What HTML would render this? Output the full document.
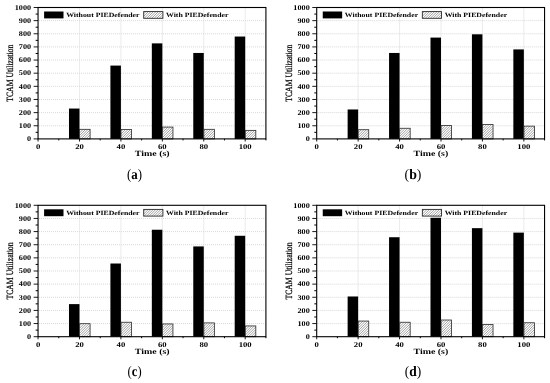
<!DOCTYPE html>
<html lang="en">
<head>
<meta charset="utf-8">
<title>TCAM Utilization</title>
<style>
html,body{margin:0;padding:0;background:#fff;}
body{width:550px;height:383px;overflow:hidden;}
svg{display:block;}
text{font-family:"Liberation Serif","DejaVu Serif",serif;fill:#000;text-rendering:geometricPrecision;}
.b{font-weight:bold;}
.tk{font-weight:bold;font-size:7.2px;}
.lg{font-weight:bold;font-size:6.4px;}
.ax{font-weight:bold;font-size:8px;}
.yl{font-size:7.7px;stroke:#000;stroke-width:0.2px;}
.cap{font-size:14.5px;}
</style>
</head>
<body>
<svg width="550" height="383" viewBox="0 0 550 383">
<rect width="550" height="383" fill="#fff"/>

<g transform="translate(0,0)">
<line x1="39.05" y1="125.76" x2="265.91" y2="125.76" stroke="#c8c8c8" stroke-width="0.7" stroke-dasharray="1 1"/>
<line x1="39.05" y1="112.62" x2="265.91" y2="112.62" stroke="#c8c8c8" stroke-width="0.7" stroke-dasharray="1 1"/>
<line x1="39.05" y1="99.48" x2="265.91" y2="99.48" stroke="#c8c8c8" stroke-width="0.7" stroke-dasharray="1 1"/>
<line x1="39.05" y1="86.34" x2="265.91" y2="86.34" stroke="#c8c8c8" stroke-width="0.7" stroke-dasharray="1 1"/>
<line x1="39.05" y1="73.2" x2="265.91" y2="73.2" stroke="#c8c8c8" stroke-width="0.7" stroke-dasharray="1 1"/>
<line x1="39.05" y1="60.06" x2="265.91" y2="60.06" stroke="#c8c8c8" stroke-width="0.7" stroke-dasharray="1 1"/>
<line x1="39.05" y1="46.92" x2="265.91" y2="46.92" stroke="#c8c8c8" stroke-width="0.7" stroke-dasharray="1 1"/>
<line x1="39.05" y1="33.78" x2="265.91" y2="33.78" stroke="#c8c8c8" stroke-width="0.7" stroke-dasharray="1 1"/>
<line x1="39.05" y1="20.64" x2="265.91" y2="20.64" stroke="#c8c8c8" stroke-width="0.7" stroke-dasharray="1 1"/>
<line x1="79.48" y1="7.5" x2="79.48" y2="138.9" stroke="#dedede" stroke-width="0.6"/>
<line x1="120.91" y1="7.5" x2="120.91" y2="138.9" stroke="#dedede" stroke-width="0.6"/>
<line x1="162.34" y1="7.5" x2="162.34" y2="138.9" stroke="#dedede" stroke-width="0.6"/>
<line x1="203.77" y1="7.5" x2="203.77" y2="138.9" stroke="#dedede" stroke-width="0.6"/>
<line x1="245.2" y1="7.5" x2="245.2" y2="138.9" stroke="#dedede" stroke-width="0.6"/>
<rect x="68.98" y="108.55" width="10.5" height="30.35" fill="#000"/>
<rect x="79.58" y="129.31" width="10.5" height="9.59" fill="#fff"/>
<path d="M79.58 130.42L80.69 129.31M79.58 132.92L83.19 129.31M79.58 135.42L85.69 129.31M79.58 137.92L88.19 129.31M81.1 138.9L90.08 129.92M83.6 138.9L90.08 132.42M86.1 138.9L90.08 134.92M88.6 138.9L90.08 137.42" stroke="#555" stroke-width="0.55" fill="none"/>
<rect x="79.58" y="129.31" width="10.5" height="9.59" fill="none" stroke="#2a2a2a" stroke-width="0.8"/>
<rect x="110.41" y="65.58" width="10.5" height="73.32" fill="#000"/>
<rect x="121.01" y="129.57" width="10.5" height="9.33" fill="#fff"/>
<path d="M121.01 131.49L122.93 129.57M121.01 133.99L125.43 129.57M121.01 136.49L127.93 129.57M121.1 138.9L130.43 129.57M123.6 138.9L131.51 130.99M126.1 138.9L131.51 133.49M128.6 138.9L131.51 135.99M131.1 138.9L131.51 138.49" stroke="#555" stroke-width="0.55" fill="none"/>
<rect x="121.01" y="129.57" width="10.5" height="9.33" fill="none" stroke="#2a2a2a" stroke-width="0.8"/>
<rect x="151.84" y="43.37" width="10.5" height="95.53" fill="#000"/>
<rect x="162.44" y="127.07" width="10.5" height="11.83" fill="#fff"/>
<path d="M162.44 127.56L162.93 127.07M162.44 130.06L165.43 127.07M162.44 132.56L167.93 127.07M162.44 135.06L170.43 127.07M162.44 137.56L172.93 127.07M163.6 138.9L172.94 129.56M166.1 138.9L172.94 132.06M168.6 138.9L172.94 134.56M171.1 138.9L172.94 137.06" stroke="#555" stroke-width="0.55" fill="none"/>
<rect x="162.44" y="127.07" width="10.5" height="11.83" fill="none" stroke="#2a2a2a" stroke-width="0.8"/>
<rect x="193.27" y="52.96" width="10.5" height="85.94" fill="#000"/>
<rect x="203.87" y="129.31" width="10.5" height="9.59" fill="#fff"/>
<path d="M203.87 131.13L205.69 129.31M203.87 133.63L208.19 129.31M203.87 136.13L210.69 129.31M203.87 138.63L213.19 129.31M206.1 138.9L214.37 130.63M208.6 138.9L214.37 133.13M211.1 138.9L214.37 135.63M213.6 138.9L214.37 138.13" stroke="#555" stroke-width="0.55" fill="none"/>
<rect x="203.87" y="129.31" width="10.5" height="9.59" fill="none" stroke="#2a2a2a" stroke-width="0.8"/>
<rect x="234.7" y="36.54" width="10.5" height="102.36" fill="#000"/>
<rect x="245.3" y="130.36" width="10.5" height="8.54" fill="#fff"/>
<path d="M245.3 132.2L247.14 130.36M245.3 134.7L249.64 130.36M245.3 137.2L252.14 130.36M246.1 138.9L254.64 130.36M248.6 138.9L255.8 131.7M251.1 138.9L255.8 134.2M253.6 138.9L255.8 136.7" stroke="#555" stroke-width="0.55" fill="none"/>
<rect x="245.3" y="130.36" width="10.5" height="8.54" fill="none" stroke="#2a2a2a" stroke-width="0.8"/>
<rect x="38.05" y="7.5" width="227.86" height="131.4" fill="none" stroke="#000" stroke-width="1.1"/>
<line x1="33.65" y1="138.9" x2="38.05" y2="138.9" stroke="#000" stroke-width="0.9"/>
<text class="tk" text-anchor="end" transform="translate(31.1,141.15) scale(1.14,1)">0</text>
<line x1="35.65" y1="132.33" x2="38.05" y2="132.33" stroke="#000" stroke-width="1"/>
<line x1="33.65" y1="125.76" x2="38.05" y2="125.76" stroke="#000" stroke-width="0.9"/>
<text class="tk" text-anchor="end" transform="translate(31.1,128.01) scale(1.14,1)">100</text>
<line x1="35.65" y1="119.19" x2="38.05" y2="119.19" stroke="#000" stroke-width="1"/>
<line x1="33.65" y1="112.62" x2="38.05" y2="112.62" stroke="#000" stroke-width="0.9"/>
<text class="tk" text-anchor="end" transform="translate(31.1,114.87) scale(1.14,1)">200</text>
<line x1="35.65" y1="106.05" x2="38.05" y2="106.05" stroke="#000" stroke-width="1"/>
<line x1="33.65" y1="99.48" x2="38.05" y2="99.48" stroke="#000" stroke-width="0.9"/>
<text class="tk" text-anchor="end" transform="translate(31.1,101.73) scale(1.14,1)">300</text>
<line x1="35.65" y1="92.91" x2="38.05" y2="92.91" stroke="#000" stroke-width="1"/>
<line x1="33.65" y1="86.34" x2="38.05" y2="86.34" stroke="#000" stroke-width="0.9"/>
<text class="tk" text-anchor="end" transform="translate(31.1,88.59) scale(1.14,1)">400</text>
<line x1="35.65" y1="79.77" x2="38.05" y2="79.77" stroke="#000" stroke-width="1"/>
<line x1="33.65" y1="73.2" x2="38.05" y2="73.2" stroke="#000" stroke-width="0.9"/>
<text class="tk" text-anchor="end" transform="translate(31.1,75.45) scale(1.14,1)">500</text>
<line x1="35.65" y1="66.63" x2="38.05" y2="66.63" stroke="#000" stroke-width="1"/>
<line x1="33.65" y1="60.06" x2="38.05" y2="60.06" stroke="#000" stroke-width="0.9"/>
<text class="tk" text-anchor="end" transform="translate(31.1,62.31) scale(1.14,1)">600</text>
<line x1="35.65" y1="53.49" x2="38.05" y2="53.49" stroke="#000" stroke-width="1"/>
<line x1="33.65" y1="46.92" x2="38.05" y2="46.92" stroke="#000" stroke-width="0.9"/>
<text class="tk" text-anchor="end" transform="translate(31.1,49.17) scale(1.14,1)">700</text>
<line x1="35.65" y1="40.35" x2="38.05" y2="40.35" stroke="#000" stroke-width="1"/>
<line x1="33.65" y1="33.78" x2="38.05" y2="33.78" stroke="#000" stroke-width="0.9"/>
<text class="tk" text-anchor="end" transform="translate(31.1,36.03) scale(1.14,1)">800</text>
<line x1="35.65" y1="27.21" x2="38.05" y2="27.21" stroke="#000" stroke-width="1"/>
<line x1="33.65" y1="20.64" x2="38.05" y2="20.64" stroke="#000" stroke-width="0.9"/>
<text class="tk" text-anchor="end" transform="translate(31.1,22.89) scale(1.14,1)">900</text>
<line x1="35.65" y1="14.07" x2="38.05" y2="14.07" stroke="#000" stroke-width="1"/>
<line x1="33.65" y1="7.5" x2="38.05" y2="7.5" stroke="#000" stroke-width="0.9"/>
<text class="tk" text-anchor="end" transform="translate(31.1,9.75) scale(1.14,1)">1000</text>
<line x1="38.05" y1="138.9" x2="38.05" y2="141.5" stroke="#000" stroke-width="0.9"/>
<text class="tk" text-anchor="middle" transform="translate(38.05,149) scale(1.21,1)">0</text>
<line x1="58.77" y1="138.9" x2="58.77" y2="140.4" stroke="#000" stroke-width="1"/>
<line x1="79.48" y1="138.9" x2="79.48" y2="141.5" stroke="#000" stroke-width="0.9"/>
<text class="tk" text-anchor="middle" transform="translate(79.48,149) scale(1.21,1)">20</text>
<line x1="100.19" y1="138.9" x2="100.19" y2="140.4" stroke="#000" stroke-width="1"/>
<line x1="120.91" y1="138.9" x2="120.91" y2="141.5" stroke="#000" stroke-width="0.9"/>
<text class="tk" text-anchor="middle" transform="translate(120.91,149) scale(1.21,1)">40</text>
<line x1="141.62" y1="138.9" x2="141.62" y2="140.4" stroke="#000" stroke-width="1"/>
<line x1="162.34" y1="138.9" x2="162.34" y2="141.5" stroke="#000" stroke-width="0.9"/>
<text class="tk" text-anchor="middle" transform="translate(162.34,149) scale(1.21,1)">60</text>
<line x1="183.06" y1="138.9" x2="183.06" y2="140.4" stroke="#000" stroke-width="1"/>
<line x1="203.77" y1="138.9" x2="203.77" y2="141.5" stroke="#000" stroke-width="0.9"/>
<text class="tk" text-anchor="middle" transform="translate(203.77,149) scale(1.21,1)">80</text>
<line x1="224.48" y1="138.9" x2="224.48" y2="140.4" stroke="#000" stroke-width="1"/>
<line x1="245.2" y1="138.9" x2="245.2" y2="141.5" stroke="#000" stroke-width="0.9"/>
<text class="tk" text-anchor="middle" transform="translate(245.2,149) scale(1.21,1)">100</text>
<line x1="265.91" y1="138.9" x2="265.91" y2="140.4" stroke="#000" stroke-width="1"/>
<rect x="44.1" y="11.5" width="19.4" height="6.9" fill="#000"/>
<text class="lg" transform="translate(66.2,17) scale(1.22,1)">Without PIEDefender</text>
<rect x="143.7" y="11.6" width="19.2" height="6.7" fill="#fff"/>
<path d="M143.7 13.8L145.9 11.6M143.7 16.3L148.4 11.6M144.2 18.3L150.9 11.6M146.7 18.3L153.4 11.6M149.2 18.3L155.9 11.6M151.7 18.3L158.4 11.6M154.2 18.3L160.9 11.6M156.7 18.3L162.9 12.1M159.2 18.3L162.9 14.6M161.7 18.3L162.9 17.1" stroke="#555" stroke-width="0.55" fill="none"/>
<rect x="143.7" y="11.6" width="19.2" height="6.7" fill="none" stroke="#2a2a2a" stroke-width="0.9"/>
<text class="lg" transform="translate(166,17) scale(1.22,1)">With PIEDefender</text>
<text class="ax" text-anchor="middle" transform="translate(152.2,156.4) scale(1.24,1)">Time (s)</text>
<text class="yl" text-anchor="middle" transform="translate(13.3,73.2) scale(1.24,1) rotate(-90)">TCAM Utilization</text>
<text class="cap" text-anchor="middle" transform="translate(134.6,178.5) scale(0.89,1)">(<tspan class="b">a</tspan>)</text>
</g>
<g transform="translate(278.65,0)">
<line x1="39.05" y1="125.76" x2="265.91" y2="125.76" stroke="#c8c8c8" stroke-width="0.7" stroke-dasharray="1 1"/>
<line x1="39.05" y1="112.62" x2="265.91" y2="112.62" stroke="#c8c8c8" stroke-width="0.7" stroke-dasharray="1 1"/>
<line x1="39.05" y1="99.48" x2="265.91" y2="99.48" stroke="#c8c8c8" stroke-width="0.7" stroke-dasharray="1 1"/>
<line x1="39.05" y1="86.34" x2="265.91" y2="86.34" stroke="#c8c8c8" stroke-width="0.7" stroke-dasharray="1 1"/>
<line x1="39.05" y1="73.2" x2="265.91" y2="73.2" stroke="#c8c8c8" stroke-width="0.7" stroke-dasharray="1 1"/>
<line x1="39.05" y1="60.06" x2="265.91" y2="60.06" stroke="#c8c8c8" stroke-width="0.7" stroke-dasharray="1 1"/>
<line x1="39.05" y1="46.92" x2="265.91" y2="46.92" stroke="#c8c8c8" stroke-width="0.7" stroke-dasharray="1 1"/>
<line x1="39.05" y1="33.78" x2="265.91" y2="33.78" stroke="#c8c8c8" stroke-width="0.7" stroke-dasharray="1 1"/>
<line x1="39.05" y1="20.64" x2="265.91" y2="20.64" stroke="#c8c8c8" stroke-width="0.7" stroke-dasharray="1 1"/>
<line x1="79.48" y1="7.5" x2="79.48" y2="138.9" stroke="#dedede" stroke-width="0.6"/>
<line x1="120.91" y1="7.5" x2="120.91" y2="138.9" stroke="#dedede" stroke-width="0.6"/>
<line x1="162.34" y1="7.5" x2="162.34" y2="138.9" stroke="#dedede" stroke-width="0.6"/>
<line x1="203.77" y1="7.5" x2="203.77" y2="138.9" stroke="#dedede" stroke-width="0.6"/>
<line x1="245.2" y1="7.5" x2="245.2" y2="138.9" stroke="#dedede" stroke-width="0.6"/>
<rect x="68.98" y="109.47" width="10.5" height="29.43" fill="#000"/>
<rect x="79.58" y="129.7" width="10.5" height="9.2" fill="#fff"/>
<path d="M79.58 130.42L80.3 129.7M79.58 132.92L82.8 129.7M79.58 135.42L85.3 129.7M79.58 137.92L87.8 129.7M81.1 138.9L90.08 129.92M83.6 138.9L90.08 132.42M86.1 138.9L90.08 134.92M88.6 138.9L90.08 137.42" stroke="#555" stroke-width="0.55" fill="none"/>
<rect x="79.58" y="129.7" width="10.5" height="9.2" fill="none" stroke="#2a2a2a" stroke-width="0.8"/>
<rect x="110.41" y="52.96" width="10.5" height="85.94" fill="#000"/>
<rect x="121.01" y="128.26" width="10.5" height="10.64" fill="#fff"/>
<path d="M121.01 128.99L121.74 128.26M121.01 131.49L124.24 128.26M121.01 133.99L126.74 128.26M121.01 136.49L129.24 128.26M121.1 138.9L131.51 128.49M123.6 138.9L131.51 130.99M126.1 138.9L131.51 133.49M128.6 138.9L131.51 135.99M131.1 138.9L131.51 138.49" stroke="#555" stroke-width="0.55" fill="none"/>
<rect x="121.01" y="128.26" width="10.5" height="10.64" fill="none" stroke="#2a2a2a" stroke-width="0.8"/>
<rect x="151.84" y="37.59" width="10.5" height="101.31" fill="#000"/>
<rect x="162.44" y="125.5" width="10.5" height="13.4" fill="#fff"/>
<path d="M162.44 127.56L164.5 125.5M162.44 130.06L167 125.5M162.44 132.56L169.5 125.5M162.44 135.06L172 125.5M162.44 137.56L172.94 127.06M163.6 138.9L172.94 129.56M166.1 138.9L172.94 132.06M168.6 138.9L172.94 134.56M171.1 138.9L172.94 137.06" stroke="#555" stroke-width="0.55" fill="none"/>
<rect x="162.44" y="125.5" width="10.5" height="13.4" fill="none" stroke="#2a2a2a" stroke-width="0.8"/>
<rect x="193.27" y="34.31" width="10.5" height="104.59" fill="#000"/>
<rect x="203.87" y="124.45" width="10.5" height="14.45" fill="#fff"/>
<path d="M203.87 126.13L205.55 124.45M203.87 128.63L208.05 124.45M203.87 131.13L210.55 124.45M203.87 133.63L213.05 124.45M203.87 136.13L214.37 125.63M203.87 138.63L214.37 128.13M206.1 138.9L214.37 130.63M208.6 138.9L214.37 133.13M211.1 138.9L214.37 135.63M213.6 138.9L214.37 138.13" stroke="#555" stroke-width="0.55" fill="none"/>
<rect x="203.87" y="124.45" width="10.5" height="14.45" fill="none" stroke="#2a2a2a" stroke-width="0.8"/>
<rect x="234.7" y="49.42" width="10.5" height="89.48" fill="#000"/>
<rect x="245.3" y="126.15" width="10.5" height="12.75" fill="#fff"/>
<path d="M245.3 127.2L246.35 126.15M245.3 129.7L248.85 126.15M245.3 132.2L251.35 126.15M245.3 134.7L253.85 126.15M245.3 137.2L255.8 126.7M246.1 138.9L255.8 129.2M248.6 138.9L255.8 131.7M251.1 138.9L255.8 134.2M253.6 138.9L255.8 136.7" stroke="#555" stroke-width="0.55" fill="none"/>
<rect x="245.3" y="126.15" width="10.5" height="12.75" fill="none" stroke="#2a2a2a" stroke-width="0.8"/>
<rect x="38.05" y="7.5" width="227.86" height="131.4" fill="none" stroke="#000" stroke-width="1.1"/>
<line x1="33.65" y1="138.9" x2="38.05" y2="138.9" stroke="#000" stroke-width="0.9"/>
<text class="tk" text-anchor="end" transform="translate(31.1,141.15) scale(1.14,1)">0</text>
<line x1="35.65" y1="132.33" x2="38.05" y2="132.33" stroke="#000" stroke-width="1"/>
<line x1="33.65" y1="125.76" x2="38.05" y2="125.76" stroke="#000" stroke-width="0.9"/>
<text class="tk" text-anchor="end" transform="translate(31.1,128.01) scale(1.14,1)">100</text>
<line x1="35.65" y1="119.19" x2="38.05" y2="119.19" stroke="#000" stroke-width="1"/>
<line x1="33.65" y1="112.62" x2="38.05" y2="112.62" stroke="#000" stroke-width="0.9"/>
<text class="tk" text-anchor="end" transform="translate(31.1,114.87) scale(1.14,1)">200</text>
<line x1="35.65" y1="106.05" x2="38.05" y2="106.05" stroke="#000" stroke-width="1"/>
<line x1="33.65" y1="99.48" x2="38.05" y2="99.48" stroke="#000" stroke-width="0.9"/>
<text class="tk" text-anchor="end" transform="translate(31.1,101.73) scale(1.14,1)">300</text>
<line x1="35.65" y1="92.91" x2="38.05" y2="92.91" stroke="#000" stroke-width="1"/>
<line x1="33.65" y1="86.34" x2="38.05" y2="86.34" stroke="#000" stroke-width="0.9"/>
<text class="tk" text-anchor="end" transform="translate(31.1,88.59) scale(1.14,1)">400</text>
<line x1="35.65" y1="79.77" x2="38.05" y2="79.77" stroke="#000" stroke-width="1"/>
<line x1="33.65" y1="73.2" x2="38.05" y2="73.2" stroke="#000" stroke-width="0.9"/>
<text class="tk" text-anchor="end" transform="translate(31.1,75.45) scale(1.14,1)">500</text>
<line x1="35.65" y1="66.63" x2="38.05" y2="66.63" stroke="#000" stroke-width="1"/>
<line x1="33.65" y1="60.06" x2="38.05" y2="60.06" stroke="#000" stroke-width="0.9"/>
<text class="tk" text-anchor="end" transform="translate(31.1,62.31) scale(1.14,1)">600</text>
<line x1="35.65" y1="53.49" x2="38.05" y2="53.49" stroke="#000" stroke-width="1"/>
<line x1="33.65" y1="46.92" x2="38.05" y2="46.92" stroke="#000" stroke-width="0.9"/>
<text class="tk" text-anchor="end" transform="translate(31.1,49.17) scale(1.14,1)">700</text>
<line x1="35.65" y1="40.35" x2="38.05" y2="40.35" stroke="#000" stroke-width="1"/>
<line x1="33.65" y1="33.78" x2="38.05" y2="33.78" stroke="#000" stroke-width="0.9"/>
<text class="tk" text-anchor="end" transform="translate(31.1,36.03) scale(1.14,1)">800</text>
<line x1="35.65" y1="27.21" x2="38.05" y2="27.21" stroke="#000" stroke-width="1"/>
<line x1="33.65" y1="20.64" x2="38.05" y2="20.64" stroke="#000" stroke-width="0.9"/>
<text class="tk" text-anchor="end" transform="translate(31.1,22.89) scale(1.14,1)">900</text>
<line x1="35.65" y1="14.07" x2="38.05" y2="14.07" stroke="#000" stroke-width="1"/>
<line x1="33.65" y1="7.5" x2="38.05" y2="7.5" stroke="#000" stroke-width="0.9"/>
<text class="tk" text-anchor="end" transform="translate(31.1,9.75) scale(1.14,1)">1000</text>
<line x1="38.05" y1="138.9" x2="38.05" y2="141.5" stroke="#000" stroke-width="0.9"/>
<text class="tk" text-anchor="middle" transform="translate(38.05,149) scale(1.21,1)">0</text>
<line x1="58.77" y1="138.9" x2="58.77" y2="140.4" stroke="#000" stroke-width="1"/>
<line x1="79.48" y1="138.9" x2="79.48" y2="141.5" stroke="#000" stroke-width="0.9"/>
<text class="tk" text-anchor="middle" transform="translate(79.48,149) scale(1.21,1)">20</text>
<line x1="100.19" y1="138.9" x2="100.19" y2="140.4" stroke="#000" stroke-width="1"/>
<line x1="120.91" y1="138.9" x2="120.91" y2="141.5" stroke="#000" stroke-width="0.9"/>
<text class="tk" text-anchor="middle" transform="translate(120.91,149) scale(1.21,1)">40</text>
<line x1="141.62" y1="138.9" x2="141.62" y2="140.4" stroke="#000" stroke-width="1"/>
<line x1="162.34" y1="138.9" x2="162.34" y2="141.5" stroke="#000" stroke-width="0.9"/>
<text class="tk" text-anchor="middle" transform="translate(162.34,149) scale(1.21,1)">60</text>
<line x1="183.06" y1="138.9" x2="183.06" y2="140.4" stroke="#000" stroke-width="1"/>
<line x1="203.77" y1="138.9" x2="203.77" y2="141.5" stroke="#000" stroke-width="0.9"/>
<text class="tk" text-anchor="middle" transform="translate(203.77,149) scale(1.21,1)">80</text>
<line x1="224.48" y1="138.9" x2="224.48" y2="140.4" stroke="#000" stroke-width="1"/>
<line x1="245.2" y1="138.9" x2="245.2" y2="141.5" stroke="#000" stroke-width="0.9"/>
<text class="tk" text-anchor="middle" transform="translate(245.2,149) scale(1.21,1)">100</text>
<line x1="265.91" y1="138.9" x2="265.91" y2="140.4" stroke="#000" stroke-width="1"/>
<rect x="44.1" y="11.5" width="19.4" height="6.9" fill="#000"/>
<text class="lg" transform="translate(66.2,17) scale(1.22,1)">Without PIEDefender</text>
<rect x="143.7" y="11.6" width="19.2" height="6.7" fill="#fff"/>
<path d="M143.7 13.8L145.9 11.6M143.7 16.3L148.4 11.6M144.2 18.3L150.9 11.6M146.7 18.3L153.4 11.6M149.2 18.3L155.9 11.6M151.7 18.3L158.4 11.6M154.2 18.3L160.9 11.6M156.7 18.3L162.9 12.1M159.2 18.3L162.9 14.6M161.7 18.3L162.9 17.1" stroke="#555" stroke-width="0.55" fill="none"/>
<rect x="143.7" y="11.6" width="19.2" height="6.7" fill="none" stroke="#2a2a2a" stroke-width="0.9"/>
<text class="lg" transform="translate(166,17) scale(1.22,1)">With PIEDefender</text>
<text class="ax" text-anchor="middle" transform="translate(152.2,156.4) scale(1.24,1)">Time (s)</text>
<text class="yl" text-anchor="middle" transform="translate(13.3,73.2) scale(1.24,1) rotate(-90)">TCAM Utilization</text>
<text class="cap" text-anchor="middle" transform="translate(134.35,178.5) scale(0.95,1)">(<tspan class="b">b</tspan>)</text>
</g>
<g transform="translate(0,197.8)">
<line x1="39.05" y1="125.76" x2="265.91" y2="125.76" stroke="#c8c8c8" stroke-width="0.7" stroke-dasharray="1 1"/>
<line x1="39.05" y1="112.62" x2="265.91" y2="112.62" stroke="#c8c8c8" stroke-width="0.7" stroke-dasharray="1 1"/>
<line x1="39.05" y1="99.48" x2="265.91" y2="99.48" stroke="#c8c8c8" stroke-width="0.7" stroke-dasharray="1 1"/>
<line x1="39.05" y1="86.34" x2="265.91" y2="86.34" stroke="#c8c8c8" stroke-width="0.7" stroke-dasharray="1 1"/>
<line x1="39.05" y1="73.2" x2="265.91" y2="73.2" stroke="#c8c8c8" stroke-width="0.7" stroke-dasharray="1 1"/>
<line x1="39.05" y1="60.06" x2="265.91" y2="60.06" stroke="#c8c8c8" stroke-width="0.7" stroke-dasharray="1 1"/>
<line x1="39.05" y1="46.92" x2="265.91" y2="46.92" stroke="#c8c8c8" stroke-width="0.7" stroke-dasharray="1 1"/>
<line x1="39.05" y1="33.78" x2="265.91" y2="33.78" stroke="#c8c8c8" stroke-width="0.7" stroke-dasharray="1 1"/>
<line x1="39.05" y1="20.64" x2="265.91" y2="20.64" stroke="#c8c8c8" stroke-width="0.7" stroke-dasharray="1 1"/>
<line x1="79.48" y1="7.5" x2="79.48" y2="138.9" stroke="#dedede" stroke-width="0.6"/>
<line x1="120.91" y1="7.5" x2="120.91" y2="138.9" stroke="#dedede" stroke-width="0.6"/>
<line x1="162.34" y1="7.5" x2="162.34" y2="138.9" stroke="#dedede" stroke-width="0.6"/>
<line x1="203.77" y1="7.5" x2="203.77" y2="138.9" stroke="#dedede" stroke-width="0.6"/>
<line x1="245.2" y1="7.5" x2="245.2" y2="138.9" stroke="#dedede" stroke-width="0.6"/>
<rect x="68.98" y="106.31" width="10.5" height="32.59" fill="#000"/>
<rect x="79.58" y="125.89" width="10.5" height="13.01" fill="#fff"/>
<path d="M79.58 127.92L81.61 125.89M79.58 130.42L84.11 125.89M79.58 132.92L86.61 125.89M79.58 135.42L89.11 125.89M79.58 137.92L90.08 127.42M81.1 138.9L90.08 129.92M83.6 138.9L90.08 132.42M86.1 138.9L90.08 134.92M88.6 138.9L90.08 137.42" stroke="#555" stroke-width="0.55" fill="none"/>
<rect x="79.58" y="125.89" width="10.5" height="13.01" fill="none" stroke="#2a2a2a" stroke-width="0.8"/>
<rect x="110.41" y="65.71" width="10.5" height="73.19" fill="#000"/>
<rect x="121.01" y="124.45" width="10.5" height="14.45" fill="#fff"/>
<path d="M121.01 126.49L123.05 124.45M121.01 128.99L125.55 124.45M121.01 131.49L128.05 124.45M121.01 133.99L130.55 124.45M121.01 136.49L131.51 125.99M121.1 138.9L131.51 128.49M123.6 138.9L131.51 130.99M126.1 138.9L131.51 133.49M128.6 138.9L131.51 135.99M131.1 138.9L131.51 138.49" stroke="#555" stroke-width="0.55" fill="none"/>
<rect x="121.01" y="124.45" width="10.5" height="14.45" fill="none" stroke="#2a2a2a" stroke-width="0.8"/>
<rect x="151.84" y="31.94" width="10.5" height="106.96" fill="#000"/>
<rect x="162.44" y="126.15" width="10.5" height="12.75" fill="#fff"/>
<path d="M162.44 127.56L163.85 126.15M162.44 130.06L166.35 126.15M162.44 132.56L168.85 126.15M162.44 135.06L171.35 126.15M162.44 137.56L172.94 127.06M163.6 138.9L172.94 129.56M166.1 138.9L172.94 132.06M168.6 138.9L172.94 134.56M171.1 138.9L172.94 137.06" stroke="#555" stroke-width="0.55" fill="none"/>
<rect x="162.44" y="126.15" width="10.5" height="12.75" fill="none" stroke="#2a2a2a" stroke-width="0.8"/>
<rect x="193.27" y="48.63" width="10.5" height="90.27" fill="#000"/>
<rect x="203.87" y="125.1" width="10.5" height="13.8" fill="#fff"/>
<path d="M203.87 126.13L204.9 125.1M203.87 128.63L207.4 125.1M203.87 131.13L209.9 125.1M203.87 133.63L212.4 125.1M203.87 136.13L214.37 125.63M203.87 138.63L214.37 128.13M206.1 138.9L214.37 130.63M208.6 138.9L214.37 133.13M211.1 138.9L214.37 135.63M213.6 138.9L214.37 138.13" stroke="#555" stroke-width="0.55" fill="none"/>
<rect x="203.87" y="125.1" width="10.5" height="13.8" fill="none" stroke="#2a2a2a" stroke-width="0.8"/>
<rect x="234.7" y="37.98" width="10.5" height="100.92" fill="#000"/>
<rect x="245.3" y="128.13" width="10.5" height="10.77" fill="#fff"/>
<path d="M245.3 129.7L246.87 128.13M245.3 132.2L249.37 128.13M245.3 134.7L251.87 128.13M245.3 137.2L254.37 128.13M246.1 138.9L255.8 129.2M248.6 138.9L255.8 131.7M251.1 138.9L255.8 134.2M253.6 138.9L255.8 136.7" stroke="#555" stroke-width="0.55" fill="none"/>
<rect x="245.3" y="128.13" width="10.5" height="10.77" fill="none" stroke="#2a2a2a" stroke-width="0.8"/>
<rect x="38.05" y="7.5" width="227.86" height="131.4" fill="none" stroke="#000" stroke-width="1.1"/>
<line x1="33.65" y1="138.9" x2="38.05" y2="138.9" stroke="#000" stroke-width="0.9"/>
<text class="tk" text-anchor="end" transform="translate(31.1,141.15) scale(1.14,1)">0</text>
<line x1="35.65" y1="132.33" x2="38.05" y2="132.33" stroke="#000" stroke-width="1"/>
<line x1="33.65" y1="125.76" x2="38.05" y2="125.76" stroke="#000" stroke-width="0.9"/>
<text class="tk" text-anchor="end" transform="translate(31.1,128.01) scale(1.14,1)">100</text>
<line x1="35.65" y1="119.19" x2="38.05" y2="119.19" stroke="#000" stroke-width="1"/>
<line x1="33.65" y1="112.62" x2="38.05" y2="112.62" stroke="#000" stroke-width="0.9"/>
<text class="tk" text-anchor="end" transform="translate(31.1,114.87) scale(1.14,1)">200</text>
<line x1="35.65" y1="106.05" x2="38.05" y2="106.05" stroke="#000" stroke-width="1"/>
<line x1="33.65" y1="99.48" x2="38.05" y2="99.48" stroke="#000" stroke-width="0.9"/>
<text class="tk" text-anchor="end" transform="translate(31.1,101.73) scale(1.14,1)">300</text>
<line x1="35.65" y1="92.91" x2="38.05" y2="92.91" stroke="#000" stroke-width="1"/>
<line x1="33.65" y1="86.34" x2="38.05" y2="86.34" stroke="#000" stroke-width="0.9"/>
<text class="tk" text-anchor="end" transform="translate(31.1,88.59) scale(1.14,1)">400</text>
<line x1="35.65" y1="79.77" x2="38.05" y2="79.77" stroke="#000" stroke-width="1"/>
<line x1="33.65" y1="73.2" x2="38.05" y2="73.2" stroke="#000" stroke-width="0.9"/>
<text class="tk" text-anchor="end" transform="translate(31.1,75.45) scale(1.14,1)">500</text>
<line x1="35.65" y1="66.63" x2="38.05" y2="66.63" stroke="#000" stroke-width="1"/>
<line x1="33.65" y1="60.06" x2="38.05" y2="60.06" stroke="#000" stroke-width="0.9"/>
<text class="tk" text-anchor="end" transform="translate(31.1,62.31) scale(1.14,1)">600</text>
<line x1="35.65" y1="53.49" x2="38.05" y2="53.49" stroke="#000" stroke-width="1"/>
<line x1="33.65" y1="46.92" x2="38.05" y2="46.92" stroke="#000" stroke-width="0.9"/>
<text class="tk" text-anchor="end" transform="translate(31.1,49.17) scale(1.14,1)">700</text>
<line x1="35.65" y1="40.35" x2="38.05" y2="40.35" stroke="#000" stroke-width="1"/>
<line x1="33.65" y1="33.78" x2="38.05" y2="33.78" stroke="#000" stroke-width="0.9"/>
<text class="tk" text-anchor="end" transform="translate(31.1,36.03) scale(1.14,1)">800</text>
<line x1="35.65" y1="27.21" x2="38.05" y2="27.21" stroke="#000" stroke-width="1"/>
<line x1="33.65" y1="20.64" x2="38.05" y2="20.64" stroke="#000" stroke-width="0.9"/>
<text class="tk" text-anchor="end" transform="translate(31.1,22.89) scale(1.14,1)">900</text>
<line x1="35.65" y1="14.07" x2="38.05" y2="14.07" stroke="#000" stroke-width="1"/>
<line x1="33.65" y1="7.5" x2="38.05" y2="7.5" stroke="#000" stroke-width="0.9"/>
<text class="tk" text-anchor="end" transform="translate(31.1,9.75) scale(1.14,1)">1000</text>
<line x1="38.05" y1="138.9" x2="38.05" y2="141.5" stroke="#000" stroke-width="0.9"/>
<text class="tk" text-anchor="middle" transform="translate(38.05,149) scale(1.21,1)">0</text>
<line x1="58.77" y1="138.9" x2="58.77" y2="140.4" stroke="#000" stroke-width="1"/>
<line x1="79.48" y1="138.9" x2="79.48" y2="141.5" stroke="#000" stroke-width="0.9"/>
<text class="tk" text-anchor="middle" transform="translate(79.48,149) scale(1.21,1)">20</text>
<line x1="100.19" y1="138.9" x2="100.19" y2="140.4" stroke="#000" stroke-width="1"/>
<line x1="120.91" y1="138.9" x2="120.91" y2="141.5" stroke="#000" stroke-width="0.9"/>
<text class="tk" text-anchor="middle" transform="translate(120.91,149) scale(1.21,1)">40</text>
<line x1="141.62" y1="138.9" x2="141.62" y2="140.4" stroke="#000" stroke-width="1"/>
<line x1="162.34" y1="138.9" x2="162.34" y2="141.5" stroke="#000" stroke-width="0.9"/>
<text class="tk" text-anchor="middle" transform="translate(162.34,149) scale(1.21,1)">60</text>
<line x1="183.06" y1="138.9" x2="183.06" y2="140.4" stroke="#000" stroke-width="1"/>
<line x1="203.77" y1="138.9" x2="203.77" y2="141.5" stroke="#000" stroke-width="0.9"/>
<text class="tk" text-anchor="middle" transform="translate(203.77,149) scale(1.21,1)">80</text>
<line x1="224.48" y1="138.9" x2="224.48" y2="140.4" stroke="#000" stroke-width="1"/>
<line x1="245.2" y1="138.9" x2="245.2" y2="141.5" stroke="#000" stroke-width="0.9"/>
<text class="tk" text-anchor="middle" transform="translate(245.2,149) scale(1.21,1)">100</text>
<line x1="265.91" y1="138.9" x2="265.91" y2="140.4" stroke="#000" stroke-width="1"/>
<rect x="44.1" y="11.5" width="19.4" height="6.9" fill="#000"/>
<text class="lg" transform="translate(66.2,17) scale(1.22,1)">Without PIEDefender</text>
<rect x="143.7" y="11.6" width="19.2" height="6.7" fill="#fff"/>
<path d="M143.7 13.8L145.9 11.6M143.7 16.3L148.4 11.6M144.2 18.3L150.9 11.6M146.7 18.3L153.4 11.6M149.2 18.3L155.9 11.6M151.7 18.3L158.4 11.6M154.2 18.3L160.9 11.6M156.7 18.3L162.9 12.1M159.2 18.3L162.9 14.6M161.7 18.3L162.9 17.1" stroke="#555" stroke-width="0.55" fill="none"/>
<rect x="143.7" y="11.6" width="19.2" height="6.7" fill="none" stroke="#2a2a2a" stroke-width="0.9"/>
<text class="lg" transform="translate(166,17) scale(1.22,1)">With PIEDefender</text>
<text class="ax" text-anchor="middle" transform="translate(152.2,156.4) scale(1.24,1)">Time (s)</text>
<text class="yl" text-anchor="middle" transform="translate(13.3,73.2) scale(1.24,1) rotate(-90)">TCAM Utilization</text>
<text class="cap" text-anchor="middle" transform="translate(134.6,178.5) scale(0.87,1)">(<tspan class="b">c</tspan>)</text>
</g>
<g transform="translate(278.65,197.8)">
<line x1="39.05" y1="125.76" x2="265.91" y2="125.76" stroke="#c8c8c8" stroke-width="0.7" stroke-dasharray="1 1"/>
<line x1="39.05" y1="112.62" x2="265.91" y2="112.62" stroke="#c8c8c8" stroke-width="0.7" stroke-dasharray="1 1"/>
<line x1="39.05" y1="99.48" x2="265.91" y2="99.48" stroke="#c8c8c8" stroke-width="0.7" stroke-dasharray="1 1"/>
<line x1="39.05" y1="86.34" x2="265.91" y2="86.34" stroke="#c8c8c8" stroke-width="0.7" stroke-dasharray="1 1"/>
<line x1="39.05" y1="73.2" x2="265.91" y2="73.2" stroke="#c8c8c8" stroke-width="0.7" stroke-dasharray="1 1"/>
<line x1="39.05" y1="60.06" x2="265.91" y2="60.06" stroke="#c8c8c8" stroke-width="0.7" stroke-dasharray="1 1"/>
<line x1="39.05" y1="46.92" x2="265.91" y2="46.92" stroke="#c8c8c8" stroke-width="0.7" stroke-dasharray="1 1"/>
<line x1="39.05" y1="33.78" x2="265.91" y2="33.78" stroke="#c8c8c8" stroke-width="0.7" stroke-dasharray="1 1"/>
<line x1="39.05" y1="20.64" x2="265.91" y2="20.64" stroke="#c8c8c8" stroke-width="0.7" stroke-dasharray="1 1"/>
<line x1="79.48" y1="7.5" x2="79.48" y2="138.9" stroke="#dedede" stroke-width="0.6"/>
<line x1="120.91" y1="7.5" x2="120.91" y2="138.9" stroke="#dedede" stroke-width="0.6"/>
<line x1="162.34" y1="7.5" x2="162.34" y2="138.9" stroke="#dedede" stroke-width="0.6"/>
<line x1="203.77" y1="7.5" x2="203.77" y2="138.9" stroke="#dedede" stroke-width="0.6"/>
<line x1="245.2" y1="7.5" x2="245.2" y2="138.9" stroke="#dedede" stroke-width="0.6"/>
<rect x="68.98" y="98.69" width="10.5" height="40.21" fill="#000"/>
<rect x="79.58" y="123.26" width="10.5" height="15.64" fill="#fff"/>
<path d="M79.58 125.42L81.74 123.26M79.58 127.92L84.24 123.26M79.58 130.42L86.74 123.26M79.58 132.92L89.24 123.26M79.58 135.42L90.08 124.92M79.58 137.92L90.08 127.42M81.1 138.9L90.08 129.92M83.6 138.9L90.08 132.42M86.1 138.9L90.08 134.92M88.6 138.9L90.08 137.42" stroke="#555" stroke-width="0.55" fill="none"/>
<rect x="79.58" y="123.26" width="10.5" height="15.64" fill="none" stroke="#2a2a2a" stroke-width="0.8"/>
<rect x="110.41" y="39.43" width="10.5" height="99.47" fill="#000"/>
<rect x="121.01" y="124.45" width="10.5" height="14.45" fill="#fff"/>
<path d="M121.01 126.49L123.05 124.45M121.01 128.99L125.55 124.45M121.01 131.49L128.05 124.45M121.01 133.99L130.55 124.45M121.01 136.49L131.51 125.99M121.1 138.9L131.51 128.49M123.6 138.9L131.51 130.99M126.1 138.9L131.51 133.49M128.6 138.9L131.51 135.99M131.1 138.9L131.51 138.49" stroke="#555" stroke-width="0.55" fill="none"/>
<rect x="121.01" y="124.45" width="10.5" height="14.45" fill="none" stroke="#2a2a2a" stroke-width="0.8"/>
<rect x="151.84" y="19.98" width="10.5" height="118.92" fill="#000"/>
<rect x="162.44" y="122.21" width="10.5" height="16.69" fill="#fff"/>
<path d="M162.44 122.56L162.79 122.21M162.44 125.06L165.29 122.21M162.44 127.56L167.79 122.21M162.44 130.06L170.29 122.21M162.44 132.56L172.79 122.21M162.44 135.06L172.94 124.56M162.44 137.56L172.94 127.06M163.6 138.9L172.94 129.56M166.1 138.9L172.94 132.06M168.6 138.9L172.94 134.56M171.1 138.9L172.94 137.06" stroke="#555" stroke-width="0.55" fill="none"/>
<rect x="162.44" y="122.21" width="10.5" height="16.69" fill="none" stroke="#2a2a2a" stroke-width="0.8"/>
<rect x="193.27" y="30.36" width="10.5" height="108.54" fill="#000"/>
<rect x="203.87" y="126.68" width="10.5" height="12.22" fill="#fff"/>
<path d="M203.87 128.63L205.82 126.68M203.87 131.13L208.32 126.68M203.87 133.63L210.82 126.68M203.87 136.13L213.32 126.68M203.87 138.63L214.37 128.13M206.1 138.9L214.37 130.63M208.6 138.9L214.37 133.13M211.1 138.9L214.37 135.63M213.6 138.9L214.37 138.13" stroke="#555" stroke-width="0.55" fill="none"/>
<rect x="203.87" y="126.68" width="10.5" height="12.22" fill="none" stroke="#2a2a2a" stroke-width="0.8"/>
<rect x="234.7" y="34.83" width="10.5" height="104.07" fill="#000"/>
<rect x="245.3" y="124.97" width="10.5" height="13.93" fill="#fff"/>
<path d="M245.3 127.2L247.53 124.97M245.3 129.7L250.03 124.97M245.3 132.2L252.53 124.97M245.3 134.7L255.03 124.97M245.3 137.2L255.8 126.7M246.1 138.9L255.8 129.2M248.6 138.9L255.8 131.7M251.1 138.9L255.8 134.2M253.6 138.9L255.8 136.7" stroke="#555" stroke-width="0.55" fill="none"/>
<rect x="245.3" y="124.97" width="10.5" height="13.93" fill="none" stroke="#2a2a2a" stroke-width="0.8"/>
<rect x="38.05" y="7.5" width="227.86" height="131.4" fill="none" stroke="#000" stroke-width="1.1"/>
<line x1="33.65" y1="138.9" x2="38.05" y2="138.9" stroke="#000" stroke-width="0.9"/>
<text class="tk" text-anchor="end" transform="translate(31.1,141.15) scale(1.14,1)">0</text>
<line x1="35.65" y1="132.33" x2="38.05" y2="132.33" stroke="#000" stroke-width="1"/>
<line x1="33.65" y1="125.76" x2="38.05" y2="125.76" stroke="#000" stroke-width="0.9"/>
<text class="tk" text-anchor="end" transform="translate(31.1,128.01) scale(1.14,1)">100</text>
<line x1="35.65" y1="119.19" x2="38.05" y2="119.19" stroke="#000" stroke-width="1"/>
<line x1="33.65" y1="112.62" x2="38.05" y2="112.62" stroke="#000" stroke-width="0.9"/>
<text class="tk" text-anchor="end" transform="translate(31.1,114.87) scale(1.14,1)">200</text>
<line x1="35.65" y1="106.05" x2="38.05" y2="106.05" stroke="#000" stroke-width="1"/>
<line x1="33.65" y1="99.48" x2="38.05" y2="99.48" stroke="#000" stroke-width="0.9"/>
<text class="tk" text-anchor="end" transform="translate(31.1,101.73) scale(1.14,1)">300</text>
<line x1="35.65" y1="92.91" x2="38.05" y2="92.91" stroke="#000" stroke-width="1"/>
<line x1="33.65" y1="86.34" x2="38.05" y2="86.34" stroke="#000" stroke-width="0.9"/>
<text class="tk" text-anchor="end" transform="translate(31.1,88.59) scale(1.14,1)">400</text>
<line x1="35.65" y1="79.77" x2="38.05" y2="79.77" stroke="#000" stroke-width="1"/>
<line x1="33.65" y1="73.2" x2="38.05" y2="73.2" stroke="#000" stroke-width="0.9"/>
<text class="tk" text-anchor="end" transform="translate(31.1,75.45) scale(1.14,1)">500</text>
<line x1="35.65" y1="66.63" x2="38.05" y2="66.63" stroke="#000" stroke-width="1"/>
<line x1="33.65" y1="60.06" x2="38.05" y2="60.06" stroke="#000" stroke-width="0.9"/>
<text class="tk" text-anchor="end" transform="translate(31.1,62.31) scale(1.14,1)">600</text>
<line x1="35.65" y1="53.49" x2="38.05" y2="53.49" stroke="#000" stroke-width="1"/>
<line x1="33.65" y1="46.92" x2="38.05" y2="46.92" stroke="#000" stroke-width="0.9"/>
<text class="tk" text-anchor="end" transform="translate(31.1,49.17) scale(1.14,1)">700</text>
<line x1="35.65" y1="40.35" x2="38.05" y2="40.35" stroke="#000" stroke-width="1"/>
<line x1="33.65" y1="33.78" x2="38.05" y2="33.78" stroke="#000" stroke-width="0.9"/>
<text class="tk" text-anchor="end" transform="translate(31.1,36.03) scale(1.14,1)">800</text>
<line x1="35.65" y1="27.21" x2="38.05" y2="27.21" stroke="#000" stroke-width="1"/>
<line x1="33.65" y1="20.64" x2="38.05" y2="20.64" stroke="#000" stroke-width="0.9"/>
<text class="tk" text-anchor="end" transform="translate(31.1,22.89) scale(1.14,1)">900</text>
<line x1="35.65" y1="14.07" x2="38.05" y2="14.07" stroke="#000" stroke-width="1"/>
<line x1="33.65" y1="7.5" x2="38.05" y2="7.5" stroke="#000" stroke-width="0.9"/>
<text class="tk" text-anchor="end" transform="translate(31.1,9.75) scale(1.14,1)">1000</text>
<line x1="38.05" y1="138.9" x2="38.05" y2="141.5" stroke="#000" stroke-width="0.9"/>
<text class="tk" text-anchor="middle" transform="translate(38.05,149) scale(1.21,1)">0</text>
<line x1="58.77" y1="138.9" x2="58.77" y2="140.4" stroke="#000" stroke-width="1"/>
<line x1="79.48" y1="138.9" x2="79.48" y2="141.5" stroke="#000" stroke-width="0.9"/>
<text class="tk" text-anchor="middle" transform="translate(79.48,149) scale(1.21,1)">20</text>
<line x1="100.19" y1="138.9" x2="100.19" y2="140.4" stroke="#000" stroke-width="1"/>
<line x1="120.91" y1="138.9" x2="120.91" y2="141.5" stroke="#000" stroke-width="0.9"/>
<text class="tk" text-anchor="middle" transform="translate(120.91,149) scale(1.21,1)">40</text>
<line x1="141.62" y1="138.9" x2="141.62" y2="140.4" stroke="#000" stroke-width="1"/>
<line x1="162.34" y1="138.9" x2="162.34" y2="141.5" stroke="#000" stroke-width="0.9"/>
<text class="tk" text-anchor="middle" transform="translate(162.34,149) scale(1.21,1)">60</text>
<line x1="183.06" y1="138.9" x2="183.06" y2="140.4" stroke="#000" stroke-width="1"/>
<line x1="203.77" y1="138.9" x2="203.77" y2="141.5" stroke="#000" stroke-width="0.9"/>
<text class="tk" text-anchor="middle" transform="translate(203.77,149) scale(1.21,1)">80</text>
<line x1="224.48" y1="138.9" x2="224.48" y2="140.4" stroke="#000" stroke-width="1"/>
<line x1="245.2" y1="138.9" x2="245.2" y2="141.5" stroke="#000" stroke-width="0.9"/>
<text class="tk" text-anchor="middle" transform="translate(245.2,149) scale(1.21,1)">100</text>
<line x1="265.91" y1="138.9" x2="265.91" y2="140.4" stroke="#000" stroke-width="1"/>
<rect x="44.1" y="11.5" width="19.4" height="6.9" fill="#000"/>
<text class="lg" transform="translate(66.2,17) scale(1.22,1)">Without PIEDefender</text>
<rect x="143.7" y="11.6" width="19.2" height="6.7" fill="#fff"/>
<path d="M143.7 13.8L145.9 11.6M143.7 16.3L148.4 11.6M144.2 18.3L150.9 11.6M146.7 18.3L153.4 11.6M149.2 18.3L155.9 11.6M151.7 18.3L158.4 11.6M154.2 18.3L160.9 11.6M156.7 18.3L162.9 12.1M159.2 18.3L162.9 14.6M161.7 18.3L162.9 17.1" stroke="#555" stroke-width="0.55" fill="none"/>
<rect x="143.7" y="11.6" width="19.2" height="6.7" fill="none" stroke="#2a2a2a" stroke-width="0.9"/>
<text class="lg" transform="translate(166,17) scale(1.22,1)">With PIEDefender</text>
<text class="ax" text-anchor="middle" transform="translate(152.2,156.4) scale(1.24,1)">Time (s)</text>
<text class="yl" text-anchor="middle" transform="translate(13.3,73.2) scale(1.24,1) rotate(-90)">TCAM Utilization</text>
<text class="cap" text-anchor="middle" transform="translate(134.35,178.5) scale(0.93,1)">(<tspan class="b">d</tspan>)</text>
</g>
</svg>
</body>
</html>
